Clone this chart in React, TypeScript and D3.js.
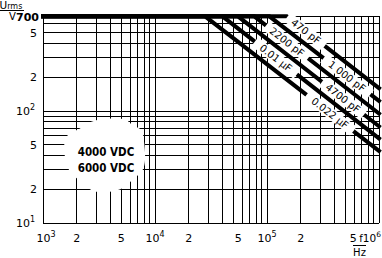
import React from 'react';
import * as d3 from 'd3';

const W = 382;
const H = 258;

// curves (capacitance), knee frequency (Hz) where the curve leaves the rated voltage, voltage at 1 MHz
const curveNames = ['470 pF', '1 000 pF', '2200 pF', '4700 pF', '0.01 µF', '0.022 µF'];
const kneeFreq = [150e3, 105e3, 77e3, 55e3, 40e3, 28e3];
const endVolt = [160, 123, 95, 73, 57, 44];
const labelFreq = [223e3, 518e3, 151e3, 477e3, 120e3, 365e3];
const ratedVolt = 700;
const fMin = 1e3;
const fMax = 1e6;
const vMin = 10;

const xTickValues = [1e3, 2e3, 5e3, 1e4, 2e4, 5e4, 1e5, 2e5, 5e5, 1e6];
const xTickMain = ['10', '2', '5', '10', '2', '5', '10', '2', '5', '10'];
const xTickSup = ['3', '', '', '4', '', '', '5', '', '', '6'];
const yTickValues = [10, 20, 50, 100, 200, 500];
const yTickMain = ['10', '2', '5', '10', '2', '5'];
const yTickSup = ['1', '', '', '2', '', ''];
const boxTexts = ['4000 VDC', '6000 VDC'];
// white area behind the voltage note, in data units [f, V]
const blobPts: [number, number][] = [
  [2.1e3, 69], [2.7e3, 80], [3.3e3, 84], [5.4e3, 84], [6.4e3, 74], [7.5e3, 68],
  [8.0e3, 52], [7.9e3, 31], [6.2e3, 24], [4.9e3, 20], [3.0e3, 19], [2.3e3, 22],
  [2.1e3, 24], [1.7e3, 30], [1.55e3, 44], [1.6e3, 58], [1.8e3, 64],
];

const x = d3.scaleLog().domain([fMin, fMax]).range([43, 379]);
const y = d3.scaleLog().domain([vMin, ratedVolt]).range([223, 223 - 112 * Math.log10(ratedVolt / vMin)]);

const font = 'DejaVu Sans, Verdana, sans-serif';

function gridValues(lo: number, hi: number) {
  const out: number[] = [];
  for (let d = Math.floor(Math.log10(lo)); d <= Math.ceil(Math.log10(hi)); d++) {
    for (let k = 1; k <= 9; k++) {
      const v = k * Math.pow(10, d);
      if (v >= lo * 0.999 && v <= hi * 1.001) out.push(v);
    }
  }
  return out;
}

export default function App() {
  const xGrid = gridValues(fMin, fMax);
  const yGrid = gridValues(vMin, ratedVolt);
  const line = d3.line<[number, number]>().x((d) => x(d[0])).y((d) => y(d[1]));
  const blobPath = d3.line<[number, number]>().x((d) => x(d[0])).y((d) => y(d[1])).curve(d3.curveCatmullRomClosed)(blobPts) || '';
  const yTop = y(ratedVolt);
  const xShift: Record<number, number> = { 1e3: 3, 5e4: 5, 5e5: 8, 1e6: 2 };

  return (
    <svg width={W} height={H} style={{ position: 'absolute', left: 0, top: 0, background: '#fff' }} fontFamily={font}>
      <rect x={0} y={0} width={W} height={H} fill="#fff" />
      {/* grid */}
      {xGrid.map((v, i) => (
        <line key={'gx' + i} x1={x(v)} x2={x(v)} y1={yTop} y2={y(vMin)} stroke="#000" strokeWidth={1} shapeRendering="crispEdges" />
      ))}
      {yGrid.map((v, i) => (
        <line key={'gy' + i} x1={x(fMin)} x2={x(fMax)} y1={y(v)} y2={y(v)} stroke="#000" strokeWidth={1} shapeRendering="crispEdges" />
      ))}
      {/* white area for note */}
      <path d={blobPath} fill="#fff" />
      {boxTexts.map((t, i) => (
        <text key={'bt' + i} x={106} y={156 + i * 16} textAnchor="middle" fontSize={11.5} fontWeight="bold" fill="#000"
          fontFamily="'DejaVu Sans Condensed', 'DejaVu Sans', sans-serif" fontStretch="condensed">{t}</text>
      ))}
      {/* curves */}
      {curveNames.map((n, i) => {
        const pts: [number, number][] = [[fMin, ratedVolt], [kneeFreq[i], ratedVolt], [fMax, endVolt[i]]];
        return <path key={'c' + i} d={line(pts) || ''} fill="none" stroke="#000" strokeWidth={4} strokeLinecap="square" strokeLinejoin="miter" />;
      })}
      {/* curve labels */}
      {curveNames.map((n, i) => {
        const x0 = x(kneeFreq[i]);
        const y0 = y(ratedVolt);
        const x1 = x(fMax);
        const y1 = y(endVolt[i]);
        const lx = x(labelFreq[i]);
        const t = (lx - x0) / (x1 - x0);
        const ly = y0 + t * (y1 - y0);
        const ang = (Math.atan2(y1 - y0, x1 - x0) * 180) / Math.PI;
        const wTxt = n.length * 5.9 + 12;
        return (
          <g key={'l' + i} transform={`translate(${lx},${ly}) rotate(${ang})`}>
            <rect x={-wTxt / 2} y={-5.5} width={wTxt} height={11} fill="#fff" />
            <text x={0} y={0} dy="0.36em" textAnchor="middle" fontSize={10} fill="#000">{n}</text>
          </g>
        );
      })}
      {/* frame */}
      <line x1={x(fMin)} x2={x(fMin)} y1={yTop} y2={y(vMin)} stroke="#000" strokeWidth={1} shapeRendering="crispEdges" />
      <line x1={x(fMin)} x2={x(fMax)} y1={y(vMin)} y2={y(vMin)} stroke="#000" strokeWidth={1} shapeRendering="crispEdges" />
      {/* x tick labels */}
      {xTickValues.map((v, i) => (
        <text key={'xt' + i} x={x(v) + (xShift[v] || 0)} y={242} textAnchor={v === fMax ? 'end' : 'middle'} fontSize={v === fMax ? 10.5 : 11} fill="#000">
          {xTickMain[i]}
          {xTickSup[i] ? <tspan dy={-5} fontSize={v === fMax ? 7.5 : 8}>{xTickSup[i]}</tspan> : null}
        </text>
      ))}
      {/* y tick labels */}
      {yTickValues.map((v, i) => (
        <text key={'yt' + i} x={yTickSup[i] ? 35 : 37} y={y(v)} dy="0.36em" textAnchor="end" fontSize={11} fill="#000">
          {yTickMain[i]}
          {yTickSup[i] ? <tspan dy={-5} fontSize={8}>{yTickSup[i]}</tspan> : null}
        </text>
      ))}
      <text x={39} y={y(ratedVolt)} dy="0.38em" textAnchor="end" fontSize={11} fontWeight="bold" fill="#000">{String(ratedVolt)}</text>
      <text x={9} y={y(ratedVolt)} dy="0.38em" fontSize={10} fill="#000">V</text>
      {/* y unit */}
      <text x={-0.5} y={8.5} fontSize={10.5} fill="#000">U<tspan fontSize={8} dy={0}>rms</tspan></text>
      <line x1={0} x2={24} y1={10.5} y2={10.5} stroke="#000" strokeWidth={1} shapeRendering="crispEdges" />
      {/* x unit */}
      <text x={361} y={242} textAnchor="middle" fontSize={10} fill="#000">f</text>
      <line x1={353} x2={366} y1={245.5} y2={245.5} stroke="#000" strokeWidth={1} shapeRendering="crispEdges" />
      <text x={359.5} y={256} textAnchor="middle" fontSize={10} fill="#000">Hz</text>
    </svg>
  );
}
